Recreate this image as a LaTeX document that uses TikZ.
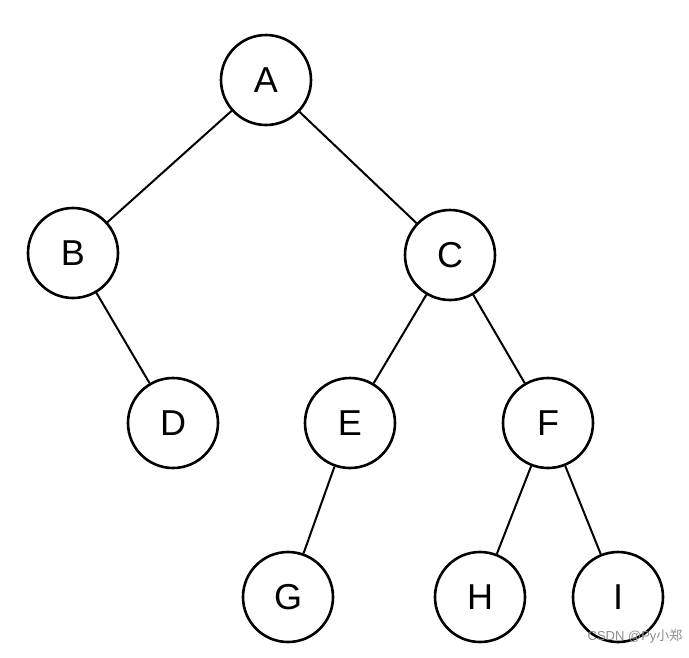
\documentclass[tikz,border=0pt]{standalone}
\usepackage{fontspec}
\setmainfont{Liberation Sans}
\newfontfamily\cjk{Noto Sans CJK SC}
\begin{document}
\begin{tikzpicture}[x=1pt,y=-1pt,
  vtx/.style={circle,draw,line width=2.6pt,minimum size=90pt,inner sep=0pt,font=\fontsize{36}{40}\selectfont},
  edge/.style={line width=2pt}]
\useasboundingbox (0,0) rectangle (689,657);
\node[vtx] (A) at (266,80) {A};
\node[vtx] (B) at (73,253) {B};
\node[vtx] (C) at (450,255) {C};
\node[vtx] (D) at (173,423) {D};
\node[vtx] (E) at (350,423) {E};
\node[vtx] (F) at (548,423) {F};
\node[vtx] (G) at (288,597) {G};
\node[vtx] (H) at (480,597) {H};
\node[vtx] (I) at (618,597) {I};
\draw[edge] (A)--(B); \draw[edge] (A)--(C);
\draw[edge] (B)--(D); \draw[edge] (C)--(E); \draw[edge] (C)--(F);
\draw[edge] (E)--(G); \draw[edge] (F)--(H); \draw[edge] (F)--(I);
\node[text=black!45,font=\fontsize{13}{15}\selectfont,anchor=east] (wm) at (686,636) {CSDN @Py{\cjk 小郑}};
\end{tikzpicture}
\end{document}
